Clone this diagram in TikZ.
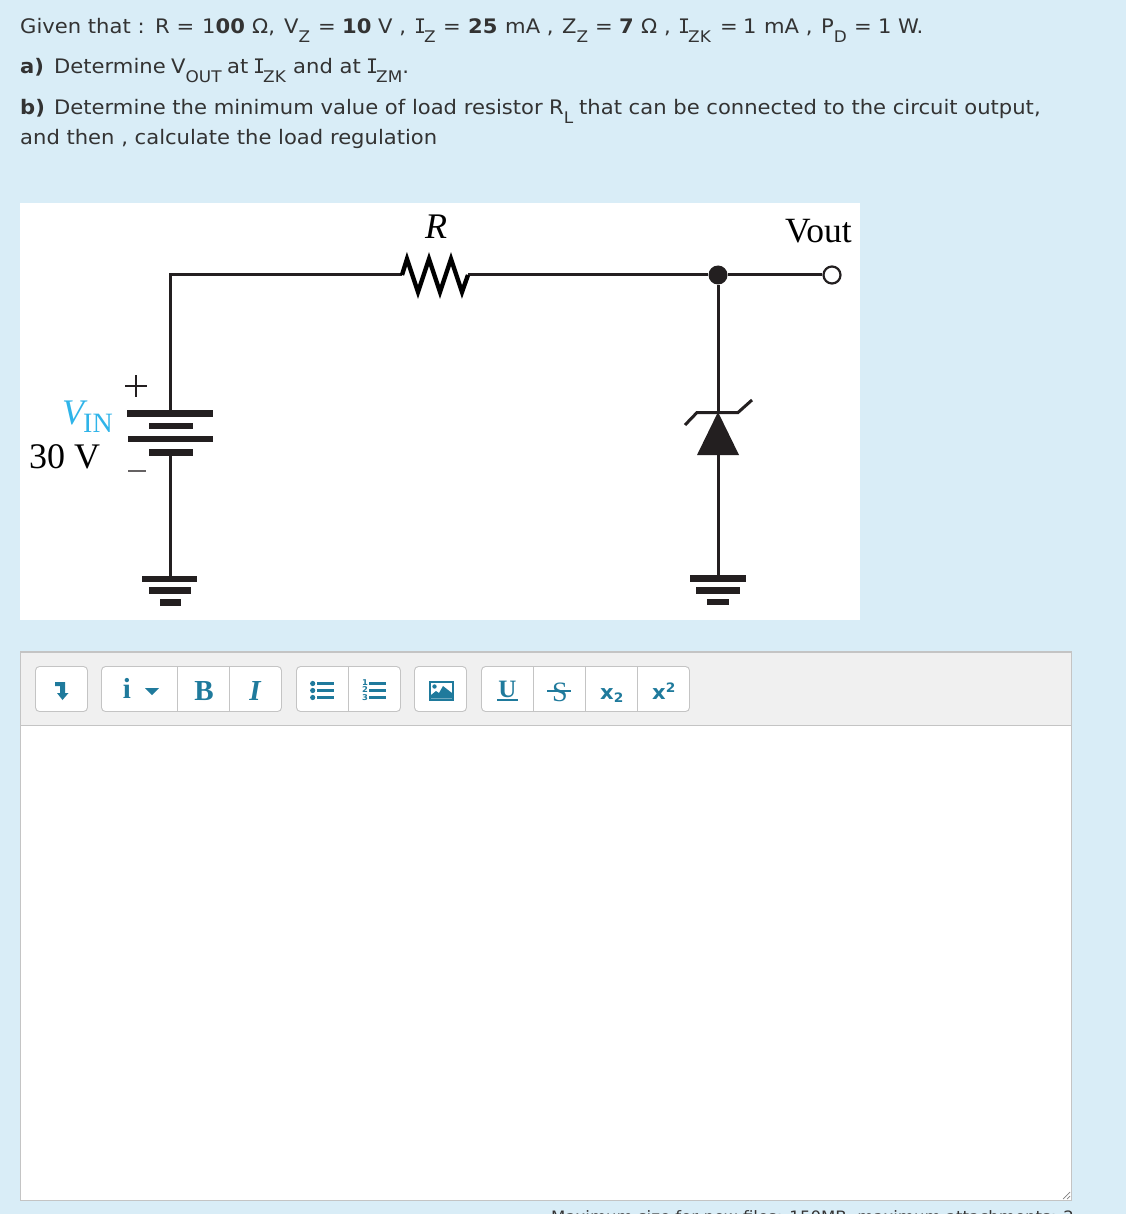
\documentclass[tikz,border=0pt]{standalone}
\usepackage{fontspec}
\setmainfont[FakeStretch=1.055]{DejaVu Sans}
\newfontfamily\serifd{Liberation Serif}
\newfontfamily\monoI{DejaVu Sans Mono}
\definecolor{pagebg}{HTML}{D9EDF7}
\definecolor{txt}{HTML}{333333}
\definecolor{ico}{HTML}{1F7A9C}
\definecolor{wire}{HTML}{231F20}
\definecolor{vin}{HTML}{2FB4E9}
\definecolor{bar}{HTML}{F0F0F0}
\definecolor{edge}{HTML}{C4C4C4}
\newcommand{\sbs}[1]{\raisebox{-8.5pt}{\fontsize{16}{16}\selectfont #1}}
\newcommand{\seg}[2]{\makebox[#1pt][l]{#2}}
\newcommand{\II}{\hspace*{-2pt}{\monoI I}\hspace*{-2pt}}
\tikzset{
  line/.style={anchor=base west,inner sep=0pt,text=txt,font=\fontsize{20}{24}\selectfont},
  wirel/.style={draw=wire,line width=3pt},
  platel/.style={fill=wire,draw=none},
  sch/.style={inner sep=0pt,text=black,font=\serifd\fontsize{36}{38}\selectfont},
  btn/.style={draw=edge,fill=white,rounded corners=4pt,line width=0.9pt},
  sep/.style={draw=edge,line width=0.9pt},
  icn/.style={inner sep=0pt,text=ico},
  icf/.style={fill=ico,draw=none},
  ics/.style={draw=ico}
}
\begin{document}
\begin{tikzpicture}[x=1pt,y=-1pt]
\useasboundingbox (0,0) rectangle (1126,1214);
\fill[pagebg] (0,0) rectangle (1126,1214);
\node[line] (l1) at (20,34) {\seg{135}{Given that :}\seg{47}{R =}\seg{50}{1\textbf{00}}\seg{32}{Ω,}\seg{34}{V\sbs{Z}}\seg{24}{=}\seg{36}{\textbf{10}}\seg{38}{V ,}\seg{27}{\II\sbs{Z}}\seg{25}{=}\seg{37}{\textbf{25}}\seg{57}{mA ,}\seg{33}{Z\sbs{Z}}\seg{24}{=}\seg{22}{\textbf{7}}\seg{39}{Ω ,}\seg{40}{\II\sbs{ZK}}\seg{23}{=}\seg{21}{1}\seg{57}{mA ,}\seg{33}{P\sbs{D}}\seg{24}{=}\seg{20}{1}W.};
\node[line] (l2) at (20,74) {\seg{34}{\textbf{a)}}\seg{117}{Determine}\seg{56}{V\sbs{OUT}}\seg{28}{at}\seg{38}{\II\sbs{ZK}}\seg{75}{and at}\II\sbs{ZM}.};
\node[line] (l3) at (20,115) {\seg{34}{\textbf{b)}}\seg{495}{Determine the minimum value of load resistor}\seg{30}{R\sbs{L}}that can be connected to the circuit output,};
\node[line] (l4) at (20,145) {and then , calculate the load regulation};
% figure
\fill[white] (20,203) rectangle (860,620);
\coordinate (tl) at (170,275);
\coordinate (rl) at (402,275);
\coordinate (rr) at (468,275);
\node[circle,fill=wire,minimum size=19pt,inner sep=0pt] (j) at (718,275) {};
\node[circle,draw=wire,fill=white,line width=2.2pt,minimum size=17pt,inner sep=0pt] (out) at (832,275) {};
\draw[wirel] (tl) -- (rl);
\draw[wirel] (rr) -- (j);
\draw[wirel] (j) -- (out);
\draw[draw=black,line width=4.4pt,line join=miter] (rl) -- (407,259) -- (418,292) -- (429,259) -- (440,292) -- (451,259) -- (462,292) -- (rr);
\coordinate (b1) at (170,413);
\coordinate (b4) at (170,452);
\coordinate (g1) at (170,578);
\draw[wirel,line cap=rect] (b1) -- (tl);
\draw[wirel] (b4) -- (g1);
\fill[platel] (127,410) rectangle (213,417);
\fill[platel] (149,423) rectangle (193,429);
\fill[platel] (128,436) rectangle (213,442);
\fill[platel] (149,449) rectangle (193,456);
\fill[platel] (141.5,576) rectangle (197,582);
\fill[platel] (149,587) rectangle (191,594);
\fill[platel] (159.5,599) rectangle (180.5,606);
\draw[line width=1.8pt,draw=wire] (125,386) -- (147,386) (136,375) -- (136,397);
\draw[line width=1.6pt,draw=wire!70] (128,471) -- (146,471);
\node[sch,anchor=base west,text=vin] (vi) at (62,424) {\itshape V};
\node[sch,anchor=base west,text=vin,font=\serifd\fontsize{28}{30}\selectfont] (vs) at (83,432) {IN};
\node[sch,anchor=base west] (v30) at (29,468) {30 V};
\node[sch,anchor=base] (rlab) at (436,239) {\itshape R};
\node[sch,anchor=base west,font=\serifd\fontsize{35.5}{38}\selectfont] (vout) at (785,243) {Vout};
% zener
\coordinate (z) at (718,412);
\coordinate (zb) at (718,455);
\coordinate (g2) at (718,578);
\draw[wirel] (j) -- (z);
\draw[wirel] (zb) -- (g2);
\fill[wire] (z) -- (739,455) -- (697,455) -- cycle;
\draw[draw=wire,line width=3pt] (685,425) -- (697,412.5) -- (738,412.5) -- (752,400);
\fill[platel] (690,575) rectangle (746,582);
\fill[platel] (696,587) rectangle (740,594);
\fill[platel] (707,599) rectangle (729,605);
% editor
\fill[bar] (20,652) rectangle (1072,725);
\fill[white] (21,726) rectangle (1071,1200);
\draw[draw=edge,line width=1.2pt] (20.5,652) rectangle (1071.5,1200.5);
\draw[draw=edge,line width=1.2pt] (21,725.5) -- (1071,725.5);
\draw[draw=gray,line width=.7pt] (1063,1199) -- (1070,1192) (1067,1199) -- (1070,1196);
% buttons
\draw[btn] (35.5,666.5) rectangle (87.5,711.5);
\draw[btn] (101.5,666.5) rectangle (281.5,711.5);
\draw[sep] (177.5,667) -- (177.5,711) (229.5,667) -- (229.5,711);
\draw[btn] (296.5,666.5) rectangle (400.5,711.5);
\draw[sep] (348.5,667) -- (348.5,711);
\draw[btn] (414.5,666.5) rectangle (466.5,711.5);
\draw[btn] (481.5,666.5) rectangle (689.5,711.5);
\draw[sep] (533.5,667) -- (533.5,711) (585.5,667) -- (585.5,711) (637.5,667) -- (637.5,711);
% indent icon
\fill[icf] (55,682) -- (65,682) -- (65,693) -- (68.5,693) -- (62.5,700) -- (57,693) -- (60,693) -- (60,686) -- (55,686) -- cycle;
% i menu
\node[icn,anchor=base,font=\serifd\bfseries\fontsize{29}{29}\selectfont] (ii) at (127,698) {i};
\fill[icf] (145,688) -- (159,688) -- (152,695) -- cycle;
\node[icn,anchor=base,font=\serifd\bfseries\fontsize{29}{29}\selectfont] (ib) at (204,700) {B};
\node[icn,anchor=base,font=\serifd\bfseries\itshape\fontsize{29}{29}\selectfont] (ii2) at (255,700) {I};
% lists
\foreach \y in {682,689,696}{
  \fill[icf] (312.7,\y+1.5) circle (2.6pt);
  \fill[icf] (317,\y) rectangle (334,\y+3);
  \fill[icf] (369,\y) rectangle (386,\y+3);
}
\foreach \y/\n in {683/1,690/2,698/3}{
  \node[icn,font=\bfseries\fontsize{8}{8}\selectfont] (n\n) at (365,\y) {\n};
}
% image icon
\draw[draw=ico,line width=1.8pt,fill=white] (430,682) rectangle (453,700);
\fill[icf] (431,698.5) -- (431,695) -- (436,691) -- (439,693) -- (443,686) -- (452,693) -- (452,698.5) -- cycle;
\fill[icf] (434.5,686.5) circle (2.2pt);
% U S x x
\node[icn,anchor=base,font=\serifd\bfseries\fontsize{25}{25}\selectfont] (iu) at (507.5,697) {U};
\fill[icf] (497,699) rectangle (518,701);
\node[icn,anchor=base,font=\serifd\fontsize{28}{28}\selectfont] (is) at (560,701) {S};
\fill[icf] (547,690) rectangle (571,692);
\node[icn,anchor=base west,font=\bfseries\fontsize{20}{20}\selectfont] (ix) at (600,699) {x\raisebox{-3pt}{\fontsize{13}{13}\selectfont 2}};
\node[icn,anchor=base west,font=\bfseries\fontsize{20}{20}\selectfont] (ixx) at (652,699) {x\raisebox{7pt}{\fontsize{13}{13}\selectfont 2}};
% footer, cut by the page edge as in the reference
\node[line,font=\fontsize{15.7}{18}\selectfont] (foot) at (551,1222) {Maximum size for new files: 150MB, maximum attachments: 2};
\end{tikzpicture}
\end{document}
